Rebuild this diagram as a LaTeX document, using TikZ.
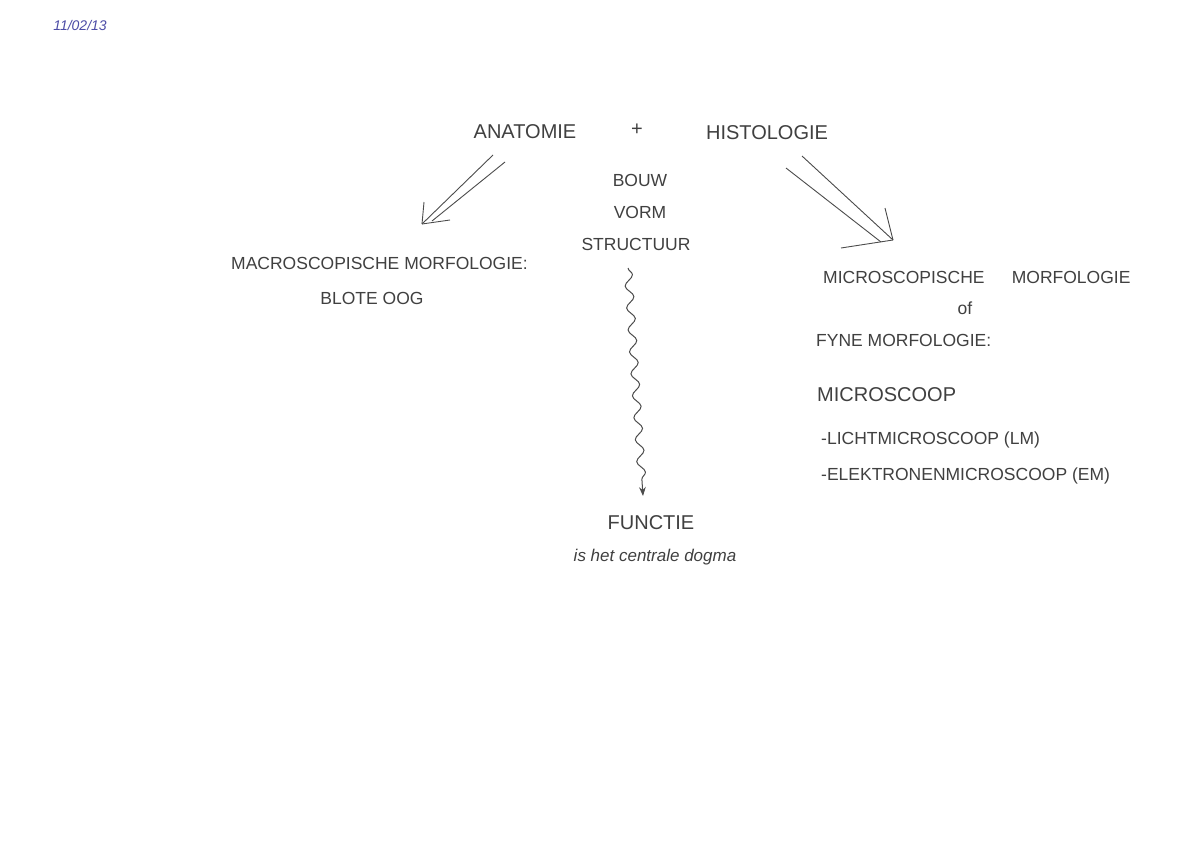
\documentclass[tikz,border=0pt]{standalone}
\usepackage{fontspec}
\setmainfont{Liberation Sans}
\usetikzlibrary{arrows.meta,decorations.pathmorphing,calc}
\begin{document}
\begin{tikzpicture}[x=1pt,y=-1pt,
  t/.style={font=\fontsize{20}{20}\selectfont, text=black!75, inner sep=1pt},
  ts/.style={font=\fontsize{17.5}{18}\selectfont, text=black!75, inner sep=1pt},
  ln/.style={draw=black!70, line width=0.9pt}]
\fill[white] (0,0) rectangle (1200,849);
\useasboundingbox (0,0) rectangle (1200,849);
\node[font=\itshape\fontsize{14}{14}\selectfont, text=blue!50!black!70] (date) at (80,25) {11/02/13};
\node[t] (ana) at (525,132) {ANATOMIE};
\node[t] (plus) at (637,130) {+};
\node[t] (his) at (767,133) {HISTOLOGIE};
\node[ts] (bouw) at (640,180) {BOUW};
\node[ts] (vorm) at (640,212) {VORM};
\node[ts] (str) at (636,244) {STRUCTUUR};
\node[ts, anchor=west] (mac) at (230,263) {MACROSCOPISCHE MORFOLOGIE:};
\node[ts] (oog) at (372,298) {BLOTE OOG};
\node[ts, anchor=west] (mic) at (822,277) {MICROSCOPISCHE \quad\ MORFOLOGIE};
\node[ts] (of) at (965,308) {of};
\node[ts, anchor=west] (fyne) at (815,340) {FYNE MORFOLOGIE:};
\node[t, anchor=west] (msc) at (816,395) {MICROSCOOP};
\node[ts, anchor=west] (lm) at (820,440) {-LICHTMICROSCOOP (LM)};
\node[ts, anchor=west] (em) at (820,476) {-ELEKTRONENMICROSCOOP (EM)};
\node[t] (fun) at (651,523) {FUNCTIE};
\node[font=\itshape\fontsize{17}{17}\selectfont, text=black!75] (dog) at (655,557) {is het centrale dogma};
% left double arrow
\coordinate (l1) at (493,155); \coordinate (l2) at (505,162);
\coordinate (lt) at (422,224);
\draw[ln] (l1) -- (lt);
\draw[ln] (l2) -- ($(lt)+(10,-3)$);
\draw[ln] (lt) -- ++(2,-22);
\draw[ln] (lt) -- ++(28,-4);
% right double arrow
\coordinate (r1) at (786,168); \coordinate (r2) at (802,156);
\coordinate (rt) at (893,240);
\draw[ln] (r1) -- ($(rt)+(-12,2)$);
\draw[ln] (r2) -- (rt);
\draw[ln] (rt) -- ++(-8,-32);
\draw[ln] (rt) -- ++(-52,8);
% wavy arrow
\coordinate (w1) at (628,268); \coordinate (w2) at (643,496);
\draw[ln, line width=1pt, decorate, decoration={snake, amplitude=4pt, segment length=22pt, post length=14pt}, -{Stealth[length=9pt]}] (w1) -- (w2);
\end{tikzpicture}
\end{document}
